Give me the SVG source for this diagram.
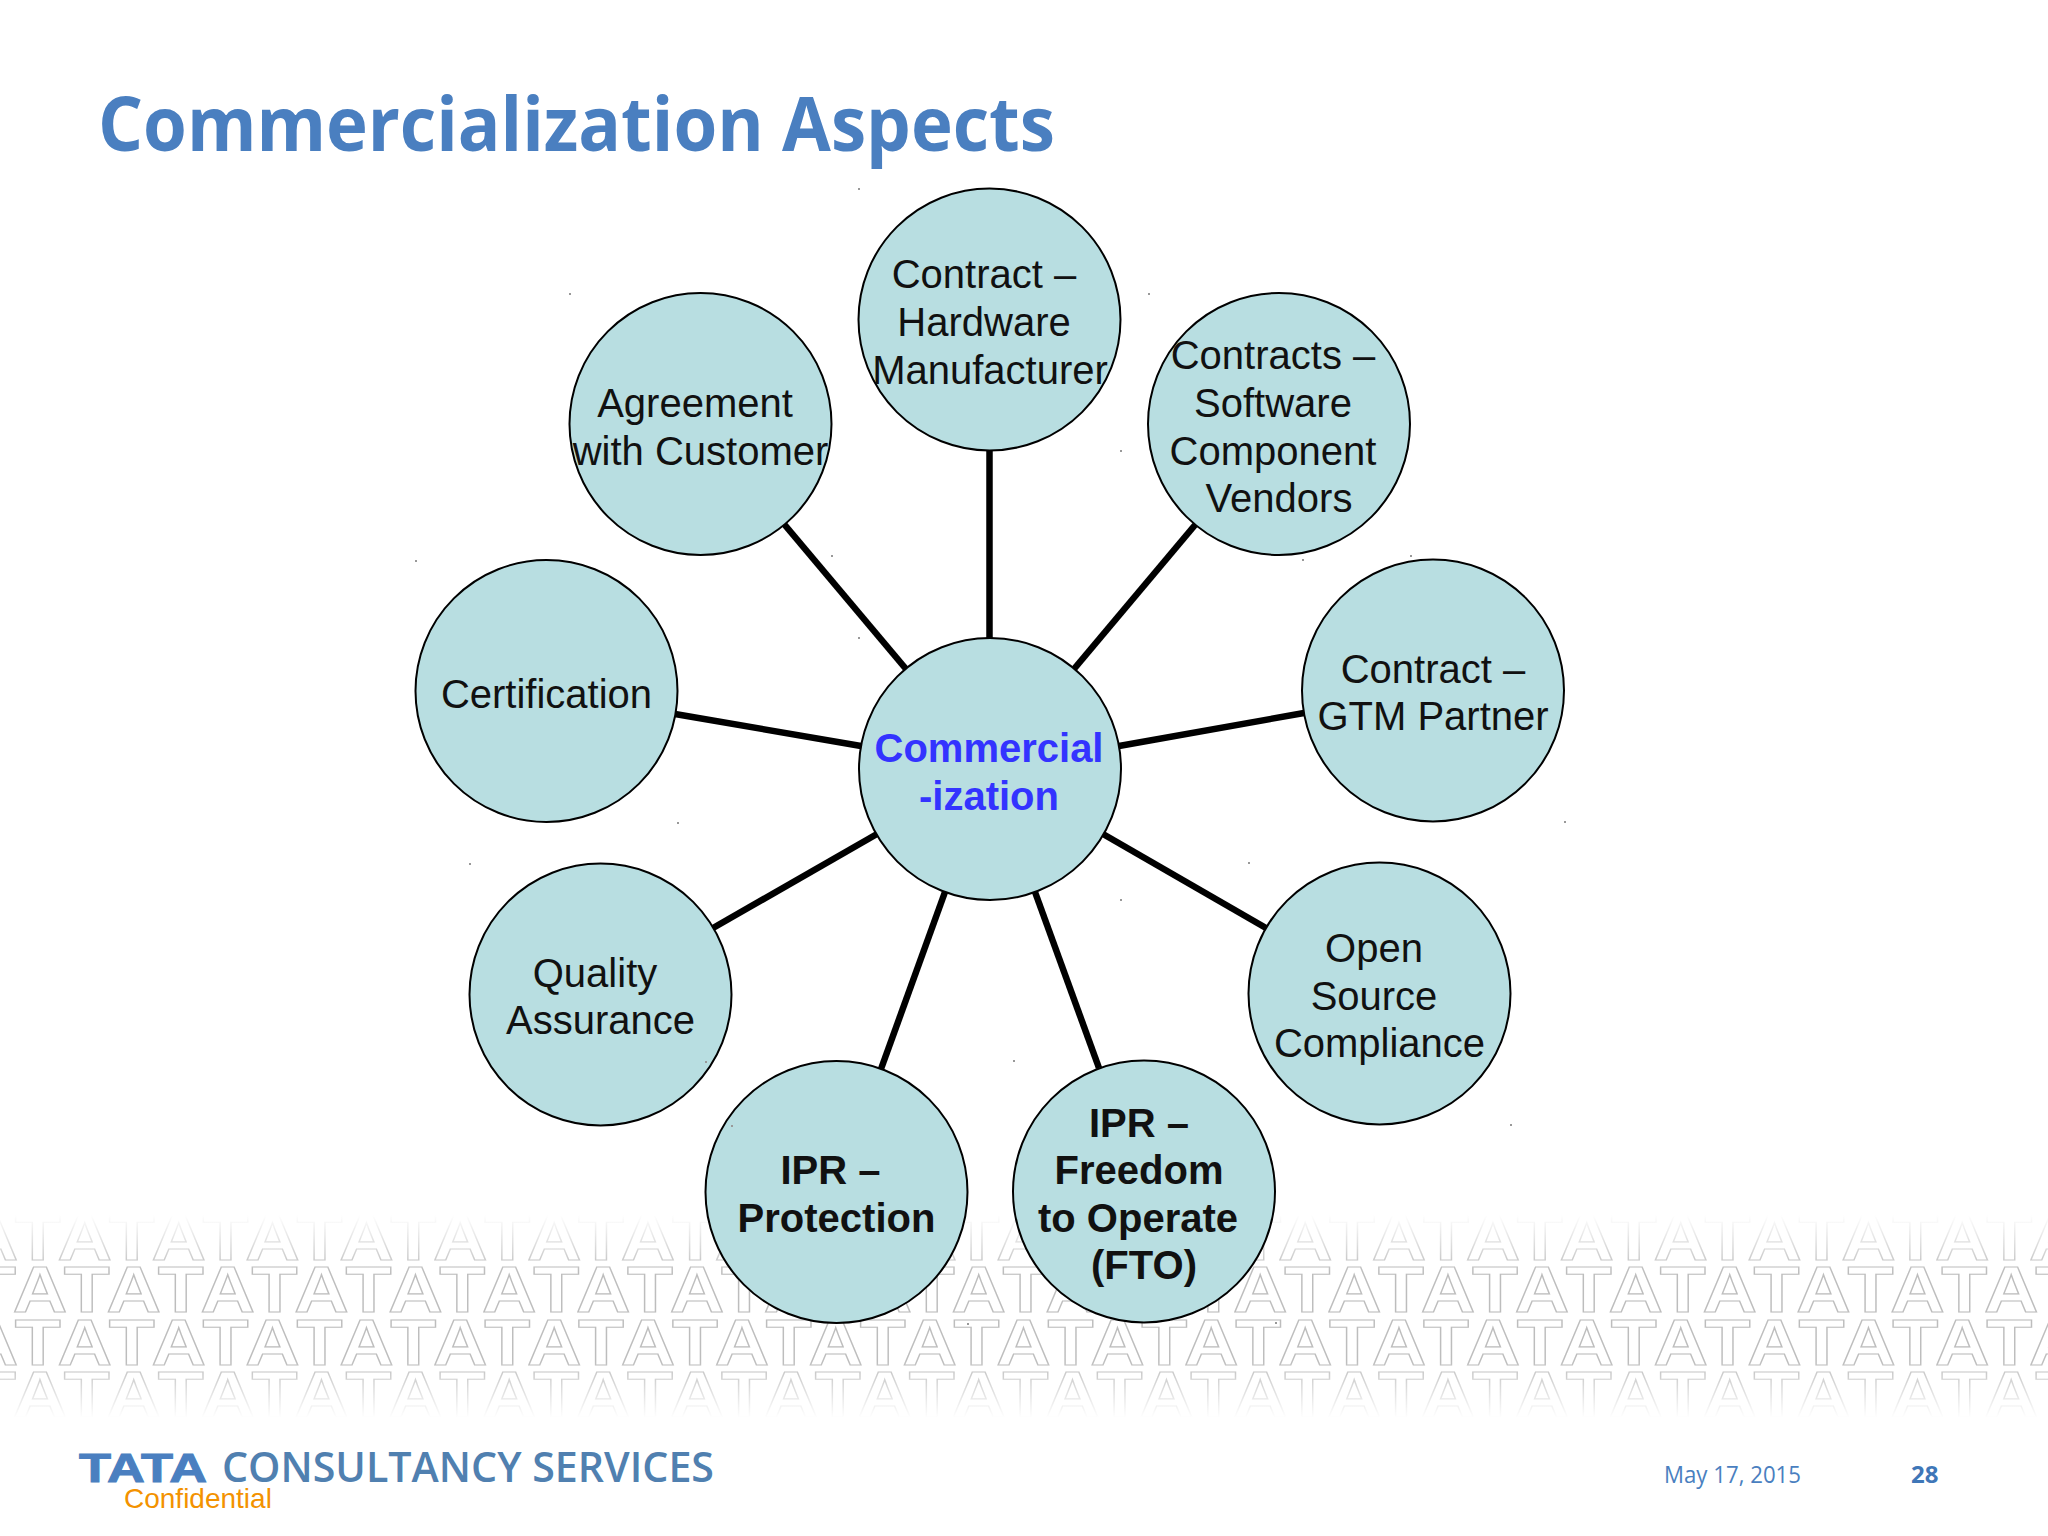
<svg xmlns="http://www.w3.org/2000/svg" width="2048" height="1536" viewBox="0 0 2048 1536">
<defs>
<linearGradient id="fade" gradientUnits="userSpaceOnUse" x1="0" y1="1215" x2="0" y2="1418">
<stop offset="0" stop-color="#ffffff"/><stop offset="0.1" stop-color="#e8e8e8"/><stop offset="0.28" stop-color="#bdbdbd"/><stop offset="0.72" stop-color="#bdbdbd"/><stop offset="1" stop-color="#ffffff"/>
</linearGradient>
</defs>
<style>
.wm{font-family:"Liberation Sans",Arial,sans-serif;font-weight:700;font-size:65px;font-kerning:none;letter-spacing:-2.85px;fill:none;stroke:url(#fade);stroke-width:1.2px}
.n{fill:#b8dee1;stroke:#000;stroke-width:2}
.t{font-family:"Liberation Sans",Arial,sans-serif;font-size:40px;fill:#111;text-anchor:middle}
.b{font-weight:700}
.c{stroke:#000;stroke-width:6.500;fill:none}
.d{fill:#999}
</style>
<rect width="2048" height="1536" fill="#fff"/>
<g id="watermark">
<text class="wm" y="1260" transform="translate(-79 0) scale(1.16 1)">TATATATATATATATATATATATATATATATATATATATATATATATA</text>
<text class="wm" y="1312" transform="translate(-30 0) scale(1.16 1)">TATATATATATATATATATATATATATATATATATATATATATATATA</text>
<text class="wm" y="1365" transform="translate(-79 0) scale(1.16 1)">TATATATATATATATATATATATATATATATATATATATATATATATA</text>
<text class="wm" y="1417" transform="translate(-30 0) scale(1.16 1)">TATATATATATATATATATATATATATATATATATATATATATATATA</text>
</g>
<text id="title" x="98" y="151" textLength="957" lengthAdjust="spacingAndGlyphs" style="font-family:'Open Sans',sans-serif;font-weight:700;font-size:76px;fill:#4a7fc0">Commercialization Aspects</text>
<g id="connectors">
<line class="c" x1="989.5" y1="640" x2="989.5" y2="450"/>
<line class="c" x1="1074" y1="669" x2="1195" y2="525"/>
<line class="c" x1="1119" y1="746" x2="1304" y2="713"/>
<line class="c" x1="1103" y1="834" x2="1266" y2="928"/>
<line class="c" x1="1035" y1="892" x2="1099" y2="1068"/>
<line class="c" x1="945" y1="892" x2="881" y2="1069"/>
<line class="c" x1="877" y1="834" x2="713" y2="928"/>
<line class="c" x1="861" y1="746" x2="675" y2="714"/>
<line class="c" x1="906" y1="669" x2="784" y2="524"/>
</g>
<g id="node-center"><circle class="n" cx="990" cy="769" r="131"/>
<text class="t b" style="fill:#3333ff" x="989" y="762">Commercial</text><text class="t b" style="fill:#3333ff" x="989" y="810">-ization</text></g>
<g id="node-hardware"><circle class="n" cx="989.500" cy="319.500" r="131"/>
<text class="t" x="984" y="288">Contract –</text><text class="t" x="984" y="336">Hardware</text><text class="t" x="990" y="384">Manufacturer</text></g>
<g id="node-software"><circle class="n" cx="1279" cy="424" r="131"/>
<text class="t" x="1273" y="369">Contracts –</text><text class="t" x="1273" y="417">Software</text><text class="t" x="1273" y="465">Component</text><text class="t" x="1279" y="512">Vendors</text></g>
<g id="node-gtm"><circle class="n" cx="1433" cy="690.500" r="131"/>
<text class="t" x="1433" y="683">Contract –</text><text class="t" x="1433" y="730">GTM Partner</text></g>
<g id="node-oss"><circle class="n" cx="1379.500" cy="993.500" r="131"/>
<text class="t" x="1374" y="962">Open</text><text class="t" x="1374" y="1010">Source</text><text class="t" x="1379.500" y="1057">Compliance</text></g>
<g id="node-fto"><circle class="n" cx="1144" cy="1191.500" r="131"/>
<text class="t b" x="1139" y="1137">IPR –</text><text class="t b" x="1139" y="1184">Freedom</text><text class="t b" x="1138" y="1232">to Operate</text><text class="t b" x="1144" y="1279">(FTO)</text></g>
<g id="node-protection"><circle class="n" cx="836.500" cy="1192" r="131"/>
<text class="t b" x="830.500" y="1184">IPR –</text><text class="t b" x="836.500" y="1232">Protection</text></g>
<g id="node-quality"><circle class="n" cx="600.500" cy="994.500" r="131"/>
<text class="t" x="595" y="987">Quality</text><text class="t" x="600.500" y="1034">Assurance</text></g>
<g id="node-cert"><circle class="n" cx="546.500" cy="691" r="131"/>
<text class="t" x="546.500" y="708">Certification</text></g>
<g id="node-customer"><circle class="n" cx="700.500" cy="424" r="131"/>
<text class="t" x="695" y="417">Agreement</text><text class="t" x="700.500" y="465">with Customer</text></g>
<g id="specks">
<rect class="d" x="858" y="188" width="2" height="2"/><rect class="d" x="1120" y="450" width="2" height="2"/>
<rect class="d" x="1148" y="293" width="2" height="2"/><rect class="d" x="1410" y="555" width="2" height="2"/>
<rect class="d" x="1302" y="559" width="2" height="2"/><rect class="d" x="1564" y="821" width="2" height="2"/>
<rect class="d" x="1248" y="862" width="2" height="2"/><rect class="d" x="1510" y="1124" width="2" height="2"/>
<rect class="d" x="1013" y="1060" width="2" height="2"/><rect class="d" x="1275" y="1322" width="2" height="2"/>
<rect class="d" x="705" y="1061" width="2" height="2"/><rect class="d" x="967" y="1323" width="2" height="2"/>
<rect class="d" x="469" y="863" width="2" height="2"/><rect class="d" x="731" y="1125" width="2" height="2"/>
<rect class="d" x="415" y="560" width="2" height="2"/><rect class="d" x="677" y="822" width="2" height="2"/>
<rect class="d" x="569" y="293" width="2" height="2"/><rect class="d" x="831" y="555" width="2" height="2"/>
<rect class="d" x="858" y="637" width="2" height="2"/><rect class="d" x="1120" y="899" width="2" height="2"/>
</g>
<g id="footer">
<text x="79" y="1482" textLength="128" lengthAdjust="spacingAndGlyphs" style="font-family:'Liberation Sans',sans-serif;font-weight:700;font-size:41px;fill:#4a7fc0;stroke:#4a7fc0;stroke-width:1">TATA</text>
<text x="222" y="1482" textLength="492" lengthAdjust="spacingAndGlyphs" style="font-family:'Open Sans',sans-serif;font-weight:600;font-size:41px;fill:#5080b0">CONSULTANCY SERVICES</text>
<text x="124" y="1508" style="font-family:'Liberation Sans',sans-serif;font-size:28px;fill:#f39200">Confidential</text>
<text x="1664" y="1483" textLength="137" lengthAdjust="spacingAndGlyphs" style="font-family:'Open Sans',sans-serif;font-size:24px;fill:#4a7fc0">May 17, 2015</text>
<text x="1911" y="1483" style="font-family:'Open Sans',sans-serif;font-weight:700;font-size:24px;fill:#3f77b8">28</text>
</g>
</svg>
